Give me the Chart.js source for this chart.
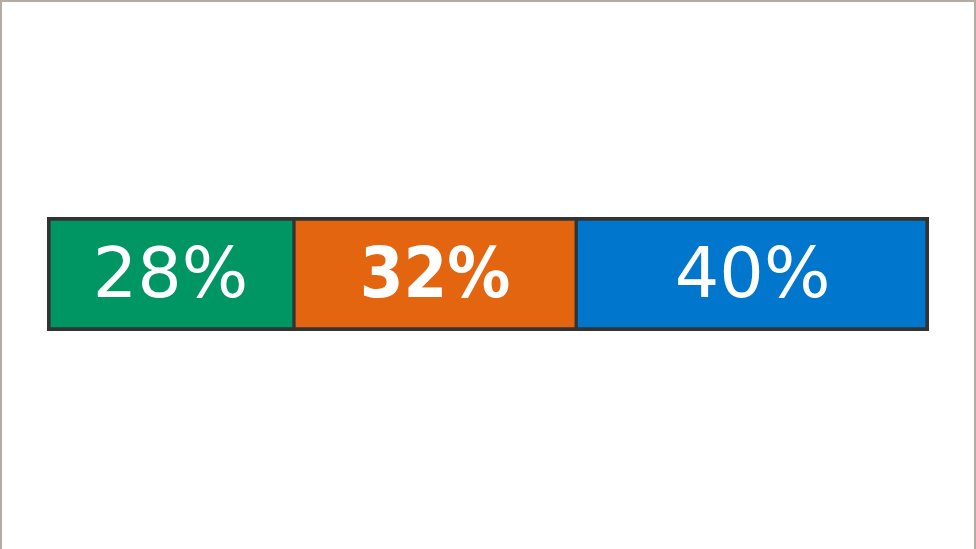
<!DOCTYPE html>
<html>
<head>
<meta charset="utf-8">
<script src="https://cdn.jsdelivr.net/npm/chart.js@4/dist/chart.umd.min.js"></script>
<style>
    html, body { margin: 0; padding: 0; background: #ffffff; }
    #wrap { position: relative; width: 976px; height: 549px; overflow: hidden; }
    #frame { position: absolute; left: 0; top: 0; width: 976px; height: 549px; box-sizing: border-box;
             border: 2px solid #b3aca4; border-bottom: none; pointer-events: none; }
    canvas { position: absolute; left: 0; top: 0; }
</style>
</head>
<body>
<div id="wrap">
    <canvas id="share-chart" width="976" height="549"></canvas>
    <div id="frame"></div>
</div>
<script>
var categories = ['Share'];
var segment_labels = ['28%', '32%', '40%'];
var segment_values = [28, 32, 40];
var segment_colors = ['#009664', '#e46510', '#0077cc'];
var label_weights = ['normal', 'bold', 'normal'];

var ShareChart;

// draws the percentage text in the middle of each segment
var segmentLabels = {
    id: 'segmentLabels',
    afterDatasetsDraw: function (chart) {
        var ctx = chart.ctx;
        ctx.save();
        ctx.fillStyle = '#ffffff';
        ctx.textAlign = 'center';
        ctx.textBaseline = 'alphabetic';
        chart.data.datasets.forEach(function (ds, i) {
            var bar = chart.getDatasetMeta(i).data[0];
            var cx = (bar.base + bar.x) / 2;
            // the bold label is narrower in the original, so use the condensed cut for it
            var family = label_weights[i] === 'bold' ? '"DejaVu Sans Condensed", "DejaVu Sans"' : '"DejaVu Sans"';
            ctx.font = label_weights[i] + ' 70px ' + family + ', Verdana, sans-serif';
            ctx.fillText(segment_labels[i], cx, bar.y + 23);
        });
        ctx.restore();
    }
};

function LoadShareChart() {
    var last = segment_values.length - 1;
    var datasets = [];

    segment_values.forEach(function (value, i) {
        datasets.push({
            label: segment_labels[i],
            data: [value],
            backgroundColor: segment_colors[i],
            borderColor: '#333333',
            borderWidth: { top: 4, bottom: 4, left: i === 0 ? 4 : 2, right: i === last ? 4 : 2 },
            borderSkipped: false,
            barPercentage: 1,
            categoryPercentage: 1
        });
    });

    var ctx = document.getElementById('share-chart');
    if (ShareChart) { ShareChart.destroy(); }
    ShareChart = new Chart(ctx, {
        type: 'bar',
        data: {
            labels: categories,
            datasets: datasets
        },
        options: {
            indexAxis: 'y',
            responsive: false,
            animation: false,
            layout: { padding: { left: 47, right: 47, top: 217, bottom: 218 } },
            plugins: {
                legend: { display: false },
                tooltip: { enabled: false }
            },
            scales: {
                x: { stacked: true, display: false, min: 0, max: 100 },
                y: { stacked: true, display: false }
            }
        },
        plugins: [segmentLabels]
    });
}

LoadShareChart();
</script>
</body>
</html>
